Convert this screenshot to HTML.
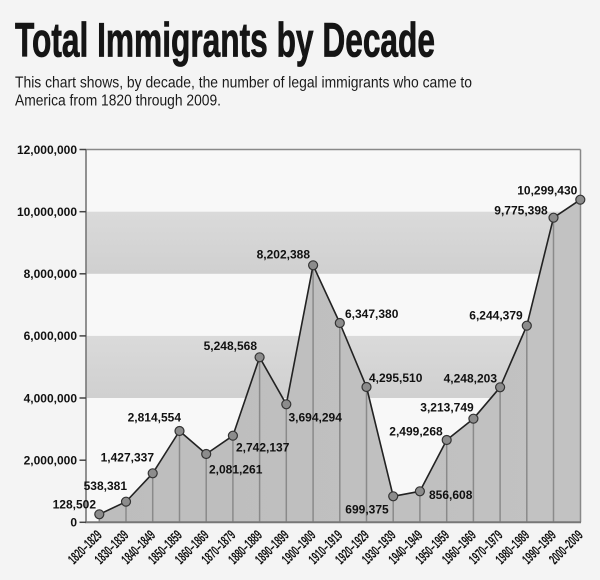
<!DOCTYPE html>
<html>
<head>
<meta charset="utf-8">
<style>
html,body{margin:0;padding:0;background:#f4f4f4;}
svg{display:block;}
text{font-family:"Liberation Sans",sans-serif;}
</style>
</head>
<body>
<svg width="600" height="580" viewBox="0 0 600 580" xmlns="http://www.w3.org/2000/svg">
<defs>
<linearGradient id="band" x1="0" y1="0" x2="0" y2="1">
<stop offset="0" stop-color="#dadada"/>
<stop offset="1" stop-color="#d0d0d0"/>
</linearGradient>
<linearGradient id="area" x1="0" y1="0" x2="1" y2="0">
<stop offset="0" stop-color="#bdbdbd"/>
<stop offset="1" stop-color="#c2c2c2"/>
</linearGradient>
</defs>
<rect x="0" y="0" width="600" height="580" fill="#f4f4f4"/>

<!-- Title -->
<text x="15" y="56.7" font-size="48" font-weight="bold" fill="#151515" stroke="#151515" stroke-width="0.8" textLength="420" lengthAdjust="spacingAndGlyphs">Total Immigrants by Decade</text>
<text x="15" y="87.3" font-size="16" fill="#1a1a1a" textLength="457" lengthAdjust="spacingAndGlyphs">This chart shows, by decade, the number of legal immigrants who came to</text>
<text x="15" y="105.3" font-size="16" fill="#1a1a1a" textLength="206" lengthAdjust="spacingAndGlyphs">America from 1820 through 2009.</text>

<!-- Plot background -->
<rect x="86" y="149.5" width="494.5" height="372.8" fill="#f8f8f8"/>
<rect x="86" y="211.7" width="494.5" height="62.1" fill="url(#band)"/>
<rect x="86" y="335.9" width="494.5" height="62.1" fill="url(#band)"/>

<!-- Area -->
<polygon fill="url(#area)" points="99.3,522.3 99.3,514.3 126.0,501.7 152.7,473.3 179.5,431 206.2,454 232.9,435.7 259.6,357.3 286.3,404.3 313.1,265.3 339.8,323 366.5,387 393.2,496.3 419.9,491.3 446.7,440 473.4,418.7 500.1,387.3 526.8,325.7 553.5,217.7 580.3,199.7 580.3,522.3"/>

<!-- vertical drop lines -->
<g stroke="#8a8a8a" stroke-width="1.5">
<line x1="99.3" y1="514.3" x2="99.3" y2="522.3"/>
<line x1="126.0" y1="501.7" x2="126.0" y2="522.3"/>
<line x1="152.7" y1="473.3" x2="152.7" y2="522.3"/>
<line x1="179.5" y1="431" x2="179.5" y2="522.3"/>
<line x1="206.2" y1="454" x2="206.2" y2="522.3"/>
<line x1="232.9" y1="435.7" x2="232.9" y2="522.3"/>
<line x1="259.6" y1="357.3" x2="259.6" y2="522.3"/>
<line x1="286.3" y1="404.3" x2="286.3" y2="522.3"/>
<line x1="313.1" y1="265.3" x2="313.1" y2="522.3"/>
<line x1="339.8" y1="323" x2="339.8" y2="522.3"/>
<line x1="366.5" y1="387" x2="366.5" y2="522.3"/>
<line x1="393.2" y1="496.3" x2="393.2" y2="522.3"/>
<line x1="419.9" y1="491.3" x2="419.9" y2="522.3"/>
<line x1="446.7" y1="440" x2="446.7" y2="522.3"/>
<line x1="473.4" y1="418.7" x2="473.4" y2="522.3"/>
<line x1="500.1" y1="387.3" x2="500.1" y2="522.3"/>
<line x1="526.8" y1="325.7" x2="526.8" y2="522.3"/>
<line x1="553.5" y1="217.7" x2="553.5" y2="522.3"/>
</g>

<!-- borders / axes -->
<line x1="86" y1="149.5" x2="580.5" y2="149.5" stroke="#888" stroke-width="1.5"/>
<line x1="580.5" y1="149.5" x2="580.5" y2="522.3" stroke="#888" stroke-width="1.5"/>
<line x1="86" y1="149" x2="86" y2="523" stroke="#777" stroke-width="1.6"/>
<line x1="85" y1="522.3" x2="581" y2="522.3" stroke="#777" stroke-width="2"/>

<!-- y ticks -->
<g stroke="#444" stroke-width="1.5">
<line x1="79.5" y1="149.5" x2="86" y2="149.5"/>
<line x1="79.5" y1="211.7" x2="86" y2="211.7"/>
<line x1="79.5" y1="273.8" x2="86" y2="273.8"/>
<line x1="79.5" y1="335.9" x2="86" y2="335.9"/>
<line x1="79.5" y1="398" x2="86" y2="398"/>
<line x1="79.5" y1="460.2" x2="86" y2="460.2"/>
<line x1="79.5" y1="522.3" x2="86" y2="522.3"/>
</g>
<g font-size="12" font-weight="bold" fill="#111" text-anchor="end">
<text x="77" y="153.8">12,000,000</text>
<text x="77" y="216">10,000,000</text>
<text x="77" y="278.1">8,000,000</text>
<text x="77" y="340.2">6,000,000</text>
<text x="77" y="402.3">4,000,000</text>
<text x="77" y="464.5">2,000,000</text>
<text x="77" y="526.6">0</text>
</g>

<!-- line -->
<polyline fill="none" stroke="#222" stroke-width="1.6" stroke-linejoin="round" points="99.3,514.3 126.0,501.7 152.7,473.3 179.5,431 206.2,454 232.9,435.7 259.6,357.3 286.3,404.3 313.1,265.3 339.8,323 366.5,387 393.2,496.3 419.9,491.3 446.7,440 473.4,418.7 500.1,387.3 526.8,325.7 553.5,217.7 580.3,199.7"/>

<!-- markers -->
<g fill="#8c8c8c" stroke="#333" stroke-width="1.2">
<circle cx="99.3" cy="514.3" r="4.5"/>
<circle cx="126.0" cy="501.7" r="4.5"/>
<circle cx="152.7" cy="473.3" r="4.5"/>
<circle cx="179.5" cy="431" r="4.5"/>
<circle cx="206.2" cy="454" r="4.5"/>
<circle cx="232.9" cy="435.7" r="4.5"/>
<circle cx="259.6" cy="357.3" r="4.5"/>
<circle cx="286.3" cy="404.3" r="4.5"/>
<circle cx="313.1" cy="265.3" r="4.5"/>
<circle cx="339.8" cy="323" r="4.5"/>
<circle cx="366.5" cy="387" r="4.5"/>
<circle cx="393.2" cy="496.3" r="4.5"/>
<circle cx="419.9" cy="491.3" r="4.5"/>
<circle cx="446.7" cy="440" r="4.5"/>
<circle cx="473.4" cy="418.7" r="4.5"/>
<circle cx="500.1" cy="387.3" r="4.5"/>
<circle cx="526.8" cy="325.7" r="4.5"/>
<circle cx="553.5" cy="217.7" r="4.5"/>
<circle cx="580.3" cy="199.7" r="4.5"/>
</g>

<!-- data labels -->
<g font-size="12" font-weight="bold" fill="#111">
<text x="96" y="508.5" text-anchor="end">128,502</text>
<text x="127" y="490" text-anchor="end">538,381</text>
<text x="154" y="461.5" text-anchor="end">1,427,337</text>
<text x="181" y="421.5" text-anchor="end">2,814,554</text>
<text x="209" y="473.5">2,081,261</text>
<text x="236" y="451.5">2,742,137</text>
<text x="257" y="350" text-anchor="end">5,248,568</text>
<text x="288.5" y="421.5">3,694,294</text>
<text x="310" y="258.3" text-anchor="end">8,202,388</text>
<text x="345" y="318">6,347,380</text>
<text x="369" y="382">4,295,510</text>
<text x="388.7" y="513.3" text-anchor="end">699,375</text>
<text x="429" y="499">856,608</text>
<text x="442.7" y="435.3" text-anchor="end">2,499,268</text>
<text x="473.7" y="411.6" text-anchor="end">3,213,749</text>
<text x="497" y="382.6" text-anchor="end">4,248,203</text>
<text x="522.7" y="319.6" text-anchor="end">6,244,379</text>
<text x="547.7" y="214.6" text-anchor="end">9,775,398</text>
<text x="577.3" y="194.3" text-anchor="end">10,299,430</text>
</g>

<!-- x labels -->
<g font-size="14" font-weight="bold" fill="#111" text-anchor="end" font-family="'Liberation Sans Narrow','Liberation Sans',sans-serif">
<text x="102.7" y="536" transform="rotate(-45 102.7 536)" textLength="41" lengthAdjust="spacingAndGlyphs">1820–1829</text>
<text x="129.4" y="536" transform="rotate(-45 129.4 536)" textLength="41" lengthAdjust="spacingAndGlyphs">1830–1839</text>
<text x="156.1" y="536" transform="rotate(-45 156.1 536)" textLength="41" lengthAdjust="spacingAndGlyphs">1840–1849</text>
<text x="182.9" y="536" transform="rotate(-45 182.9 536)" textLength="41" lengthAdjust="spacingAndGlyphs">1850–1859</text>
<text x="209.6" y="536" transform="rotate(-45 209.6 536)" textLength="41" lengthAdjust="spacingAndGlyphs">1860–1869</text>
<text x="236.3" y="536" transform="rotate(-45 236.3 536)" textLength="41" lengthAdjust="spacingAndGlyphs">1870–1879</text>
<text x="263.0" y="536" transform="rotate(-45 263.0 536)" textLength="41" lengthAdjust="spacingAndGlyphs">1880–1889</text>
<text x="289.7" y="536" transform="rotate(-45 289.7 536)" textLength="41" lengthAdjust="spacingAndGlyphs">1890–1899</text>
<text x="316.5" y="536" transform="rotate(-45 316.5 536)" textLength="41" lengthAdjust="spacingAndGlyphs">1900–1909</text>
<text x="343.2" y="536" transform="rotate(-45 343.2 536)" textLength="41" lengthAdjust="spacingAndGlyphs">1910–1919</text>
<text x="369.9" y="536" transform="rotate(-45 369.9 536)" textLength="41" lengthAdjust="spacingAndGlyphs">1920–1929</text>
<text x="396.6" y="536" transform="rotate(-45 396.6 536)" textLength="41" lengthAdjust="spacingAndGlyphs">1930–1939</text>
<text x="423.3" y="536" transform="rotate(-45 423.3 536)" textLength="41" lengthAdjust="spacingAndGlyphs">1940–1949</text>
<text x="450.1" y="536" transform="rotate(-45 450.1 536)" textLength="41" lengthAdjust="spacingAndGlyphs">1950–1959</text>
<text x="476.8" y="536" transform="rotate(-45 476.8 536)" textLength="41" lengthAdjust="spacingAndGlyphs">1960–1969</text>
<text x="503.5" y="536" transform="rotate(-45 503.5 536)" textLength="41" lengthAdjust="spacingAndGlyphs">1970–1979</text>
<text x="530.2" y="536" transform="rotate(-45 530.2 536)" textLength="41" lengthAdjust="spacingAndGlyphs">1980–1989</text>
<text x="556.9" y="536" transform="rotate(-45 556.9 536)" textLength="41" lengthAdjust="spacingAndGlyphs">1990–1999</text>
<text x="583.7" y="536" transform="rotate(-45 583.7 536)" textLength="41" lengthAdjust="spacingAndGlyphs">2000–2009</text>
</g>
</svg>
</body>
</html>
